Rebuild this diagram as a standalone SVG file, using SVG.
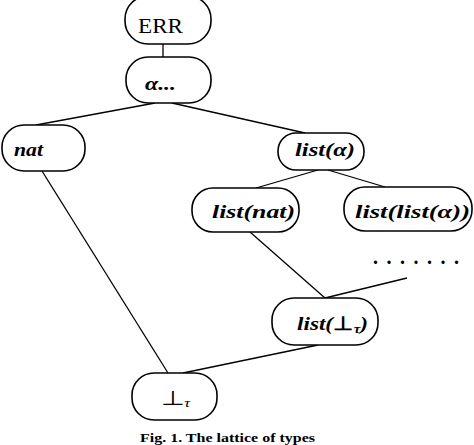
<svg xmlns="http://www.w3.org/2000/svg" width="474" height="445" viewBox="0 0 474 445">
<style>
.box{fill:#fff;stroke:#000;stroke-width:1.6}
.edge{stroke:#000;stroke-width:1.3;fill:none}
.rm{font-family:"Liberation Serif",serif;font-size:20px;fill:#000}
.it{font-family:"Liberation Serif",serif;font-size:19px;font-style:italic;font-weight:bold;fill:#000}
.sub{font-size:12px}
.cap{font-family:"Liberation Serif",serif;font-size:13px;font-weight:bold;fill:#000}
</style>
<rect width="474" height="445" fill="#fff"/>
<g id="connectors">
<line class="edge" x1="163" y1="44" x2="163" y2="57"/>
<line class="edge" x1="155" y1="103" x2="36" y2="125"/>
<line class="edge" x1="172" y1="103" x2="305" y2="133"/>
<line class="edge" x1="318" y1="170" x2="256" y2="188"/>
<line class="edge" x1="328" y1="170" x2="385" y2="187"/>
<line class="edge" x1="250" y1="232" x2="325" y2="298"/>
<line class="edge" x1="325" y1="298" x2="407" y2="278"/>
<line class="edge" x1="42" y1="171" x2="168" y2="373"/>
<line class="edge" x1="183" y1="373" x2="318" y2="345"/>
</g>
<g id="dots">
<text class="rm" x="373" y="264" textLength="86" font-weight="bold" font-size="22">.......</text>
</g>
<g id="n-err">
<rect class="box" x="125" y="-4" width="86" height="48" rx="23"/>
<text class="rm" x="138" y="33" textLength="45" lengthAdjust="spacingAndGlyphs">ERR</text>
</g>
<g id="n-alpha">
<rect class="box" x="126" y="57" width="85" height="46" rx="22"/>
<text class="it" x="145" y="90" textLength="31" lengthAdjust="spacingAndGlyphs" font-weight="normal">α...</text>
</g>
<g id="n-nat">
<rect class="box" x="2" y="125" width="83" height="46" rx="22"/>
<text class="it" x="14" y="156" textLength="29" lengthAdjust="spacingAndGlyphs">nat</text>
</g>
<g id="n-list-alpha">
<rect class="box" x="278" y="133" width="86" height="37" rx="18"/>
<text class="it" x="295" y="156" textLength="60" lengthAdjust="spacingAndGlyphs">list(α)</text>
</g>
<g id="n-list-nat">
<rect class="box" x="192" y="188" width="107" height="44" rx="21"/>
<text class="it" x="212" y="218" textLength="83" lengthAdjust="spacingAndGlyphs">list(nat)</text>
</g>
<g id="n-list-list">
<rect class="box" x="344" y="187" width="128" height="44" rx="21"/>
<text class="it" x="355" y="218" textLength="115" lengthAdjust="spacingAndGlyphs">list(list(α))</text>
</g>
<g id="n-list-bot">
<rect class="box" x="272" y="298" width="106" height="47" rx="22"/>
<text class="it" x="297" y="330" textLength="71" lengthAdjust="spacingAndGlyphs">list(<tspan font-style="normal">⊥</tspan><tspan class="sub" dy="3">τ</tspan><tspan dy="-3">)</tspan></text>
</g>
<g id="n-bot">
<rect class="box" x="132" y="373" width="85" height="47" rx="22"/>
<text class="rm" x="161" y="405" font-size="24" textLength="29" lengthAdjust="spacingAndGlyphs">⊥<tspan class="sub" font-style="italic" dy="2">τ</tspan></text>
</g>
<text class="cap" x="140" y="442" textLength="175" lengthAdjust="spacingAndGlyphs">Fig. 1. The lattice of types</text>
</svg>
